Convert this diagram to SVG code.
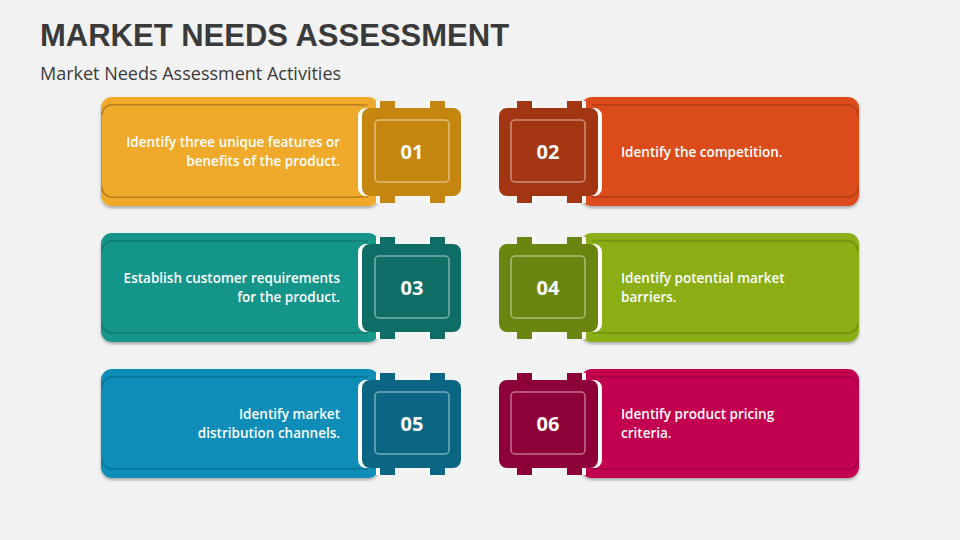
<svg xmlns="http://www.w3.org/2000/svg" xmlns:xlink="http://www.w3.org/1999/xlink" width="960" height="540" viewBox="0 0 960 540">
<style>
text{font-family:"Open Sans","Liberation Sans",sans-serif;fill:#fff}
.t{font-size:13.5px;font-weight:600}
.n{font-size:20px;font-weight:700}
.in{fill:none;stroke:#fff;stroke-opacity:.45;stroke-width:1.5}
.ed{fill:none;stroke:#000;stroke-opacity:.18;stroke-width:1.5}
</style>
<defs>
<filter id="sh" x="-10%" y="-10%" width="120%" height="130%"><feDropShadow dx="0" dy="2" stdDeviation="1.5" flood-opacity=".3"/></filter>
<path id="blk" d="M18,0h15v7h35v-7h15v7h8a8,8 0 0 1 8,8v72a8,8 0 0 1 -8,8h-8v7h-15v-7h-35v7h-15v-7h-10a8,8 0 0 1 -8,-8v-72a8,8 0 0 1 8,-8h10z"/>
</defs>
<rect width="960" height="540" fill="#f2f2f2"/>
<text x="40" y="46" style="font-family:'Liberation Sans',sans-serif;font-size:31px;font-weight:700;fill:#3a3a3a">MARKET NEEDS ASSESSMENT</text>
<text x="40" y="80" style="font-size:18px;fill:#3a3a3a">Market Needs Assessment Activities</text>

<g id="node-01" transform="translate(0,0)">
<rect x="101" y="97" width="278" height="109" rx="11" fill="#F0AA2B" filter="url(#sh)"/>
<rect x="102" y="105" width="266" height="92" rx="10" fill="#F0AA2B" class="ed"/>
<rect x="102" y="105" width="266" height="92" rx="10" fill="#F0AA2B"/>
<path d="M102,115a10,10 0 0 1 10,-10h256" class="ed"/><path d="M102,187a10,10 0 0 0 10,10h256" class="ed"/>
<g transform="translate(362,101)"><use xlink:href="#blk" fill="#fff" transform="translate(-4,0)"/><use xlink:href="#blk" fill="#C5860F"/></g>
<rect x="375" y="120" width="74" height="62" rx="4" class="in"/>
<text x="412" y="159" class="n" text-anchor="middle">01</text>
<text class="t" text-anchor="end"><tspan x="340" y="147">Identify three unique features or</tspan><tspan x="340" y="166">benefits of the product.</tspan></text>
</g>

<g id="node-02">
<rect x="581" y="97" width="278" height="109" rx="11" fill="#DB4C1A" filter="url(#sh)"/>
<rect x="592" y="105" width="266" height="92" rx="10" fill="#DB4C1A"/>
<path d="M592,105h256a10,10 0 0 1 10,10" class="ed"/><path d="M592,197h256a10,10 0 0 0 10,-10" class="ed"/>
<g transform="translate(499,101)"><use xlink:href="#blk" fill="#fff" transform="translate(4,0)"/><use xlink:href="#blk" fill="#A33612"/></g>
<rect x="511" y="120" width="74" height="62" rx="4" class="in"/>
<text x="548" y="159" class="n" text-anchor="middle">02</text>
<text class="t" x="621" y="157">Identify the competition.</text>
</g>

<g id="node-03">
<rect x="101" y="233" width="278" height="109" rx="11" fill="#14958A" filter="url(#sh)"/>
<rect x="102" y="241" width="266" height="92" rx="10" fill="#14958A"/>
<path d="M102,251a10,10 0 0 1 10,-10h256" class="ed"/><path d="M102,323a10,10 0 0 0 10,10h256" class="ed"/>
<g transform="translate(362,237)"><use xlink:href="#blk" fill="#fff" transform="translate(-4,0)"/><use xlink:href="#blk" fill="#0E6E66"/></g>
<rect x="375" y="256" width="74" height="62" rx="4" class="in"/>
<text x="412" y="295" class="n" text-anchor="middle">03</text>
<text class="t" text-anchor="end"><tspan x="340" y="283">Establish customer requirements</tspan><tspan x="340" y="302">for the product.</tspan></text>
</g>

<g id="node-04">
<rect x="581" y="233" width="278" height="109" rx="11" fill="#8AAE14" filter="url(#sh)"/>
<rect x="592" y="241" width="266" height="92" rx="10" fill="#8AAE14"/>
<path d="M592,241h256a10,10 0 0 1 10,10" class="ed"/><path d="M592,333h256a10,10 0 0 0 10,-10" class="ed"/>
<g transform="translate(499,237)"><use xlink:href="#blk" fill="#fff" transform="translate(4,0)"/><use xlink:href="#blk" fill="#6A8510"/></g>
<rect x="511" y="256" width="74" height="62" rx="4" class="in"/>
<text x="548" y="295" class="n" text-anchor="middle">04</text>
<text class="t"><tspan x="621" y="283">Identify potential market</tspan><tspan x="621" y="302">barriers.</tspan></text>
</g>

<g id="node-05">
<rect x="101" y="369" width="278" height="109" rx="11" fill="#0E8DB8" filter="url(#sh)"/>
<rect x="102" y="377" width="266" height="92" rx="10" fill="#0E8DB8"/>
<path d="M102,387a10,10 0 0 1 10,-10h256" class="ed"/><path d="M102,459a10,10 0 0 0 10,10h256" class="ed"/>
<g transform="translate(362,373)"><use xlink:href="#blk" fill="#fff" transform="translate(-4,0)"/><use xlink:href="#blk" fill="#0B6684"/></g>
<rect x="375" y="392" width="74" height="62" rx="4" class="in"/>
<text x="412" y="431" class="n" text-anchor="middle">05</text>
<text class="t" text-anchor="end"><tspan x="340" y="419">Identify market</tspan><tspan x="340" y="438">distribution channels.</tspan></text>
</g>

<g id="node-06">
<rect x="581" y="369" width="278" height="109" rx="11" fill="#C3004F" filter="url(#sh)"/>
<rect x="592" y="377" width="266" height="92" rx="10" fill="#C3004F"/>
<path d="M592,377h256a10,10 0 0 1 10,10" class="ed"/><path d="M592,469h256a10,10 0 0 0 10,-10" class="ed"/>
<g transform="translate(499,373)"><use xlink:href="#blk" fill="#fff" transform="translate(4,0)"/><use xlink:href="#blk" fill="#8E0038"/></g>
<rect x="511" y="392" width="74" height="62" rx="4" class="in"/>
<text x="548" y="431" class="n" text-anchor="middle">06</text>
<text class="t"><tspan x="621" y="419">Identify product pricing</tspan><tspan x="621" y="438">criteria.</tspan></text>
</g>
<g id="connectors"/>
</svg>
